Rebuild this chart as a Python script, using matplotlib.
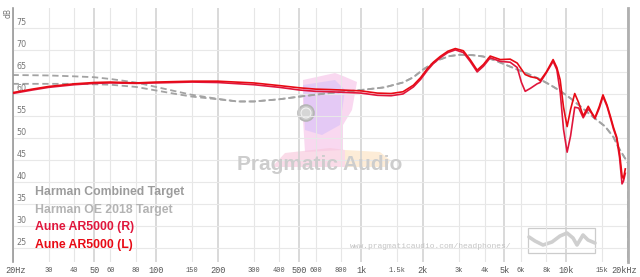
import matplotlib
matplotlib.use('Agg')
import matplotlib.pyplot as plt
from matplotlib import transforms
from matplotlib.patches import Polygon, Ellipse, Rectangle

# Frequency response data
freq_red = [20, 25, 30, 40, 50, 60, 80, 100, 150, 200, 300, 400, 500, 600, 700, 800,
            1000, 1200, 1400, 1600, 1800, 1950, 2100, 2250, 2430, 2650, 2880, 3150,
            3400, 3680, 3950, 4260, 4770, 5330, 5770, 6050, 6310, 6700, 7210, 7460,
            8000, 8630, 9000, 9340, 9700, 10100, 10500, 11000, 11500, 12100, 12800,
            13300, 13800, 14500, 15100, 15800, 16400, 17000, 17600, 18200, 18700,
            19000, 19400]
aune_r = [60.1, 60.9, 61.5, 62.1, 62.4, 62.5, 62.4, 62.5, 62.7, 62.6, 62.1, 61.5, 60.9,
          60.6, 60.5, 60.4, 60.2, 59.7, 59.6, 60.0, 61.6, 63.3, 65.3, 66.9, 68.2, 69.4,
          70.0, 69.4, 67.4, 65.0, 66.3, 68.2, 67.4, 67.2, 66.0, 62.6, 60.6, 61.3, 62.3,
          62.6, 64.8, 67.4, 65.5, 60.5, 52.0, 46.8, 50.5, 57.0, 56.8, 54.6, 56.6, 55.6,
          54.4, 56.8, 59.4, 57.2, 54.6, 52.0, 50.0, 45.5, 39.6, 40.2, 42.0]
aune_l = [60.3, 61.1, 61.7, 62.3, 62.6, 62.7, 62.5, 62.7, 62.9, 62.9, 62.5, 61.9, 61.4,
          61.1, 61.0, 60.9, 60.7, 60.2, 60.1, 60.5, 62.0, 63.7, 65.7, 67.2, 68.5, 69.7,
          70.3, 69.8, 67.8, 65.4, 66.7, 68.6, 67.8, 67.9, 67.0, 65.6, 64.4, 63.9, 63.6,
          63.0, 65.0, 67.8, 66.0, 63.2, 57.0, 52.6, 56.5, 60.1, 58.0, 55.0, 57.2, 55.8,
          54.6, 57.2, 59.8, 57.5, 55.0, 52.4, 50.3, 46.5, 41.5, 40.8, 43.0]

freq_tgt = [20, 30, 40, 50, 60, 80, 100, 125, 150, 200, 250, 300, 400, 500, 700, 1000,
            1300, 1600, 1800, 2000, 2350, 2700, 3040, 3500, 3940, 4500, 5330, 6400,
            7400, 8400, 9400, 10500, 12000, 13500, 15500, 17000, 17900, 19000, 20000, 20000]
harman_oe = [64.3, 64.2, 64.0, 63.8, 63.4, 62.6, 61.6, 60.6, 59.8, 58.9, 58.3, 58.3, 58.8,
             59.4, 60.2, 60.9, 61.5, 62.6, 63.8, 65.5, 67.6, 68.6, 68.9, 68.8, 68.5, 67.6,
             66.2, 64.7, 63.4, 62.0, 60.6, 59.0, 56.8, 54.8, 52.6, 50.2, 48.0, 46.0, 44.3, 21.0]
harman_comb = [62.3, 62.3, 62.3, 62.2, 62.1, 61.6, 60.8, 60.0, 59.4, 58.8, 58.3, 58.3, 58.8,
               59.4, 60.2, 60.9, 61.5, 62.6, 63.8, 65.5, 67.6, 68.6, 68.9, 68.8, 68.5, 67.6,
               66.2, 64.7, 63.4, 62.0, 60.6, 59.0, 56.8, 54.8, 52.6, 50.2, 48.0, 46.0, 44.3, 21.0]

xticks = [20, 30, 40, 50, 60, 80, 100, 150, 200, 300, 400, 500, 600, 800,
          1000, 1500, 2000, 3000, 4000, 5000, 6000, 8000, 10000, 15000, 20000]
xlabels = ['20Hz', '30', '40', '50', '60', '80', '100', '150', '200', '300', '400', '500',
           '600', '800', '1k', '1.5k', '2k', '3k', '4k', '5k', '6k', '8k', '10k', '15k', '20kHz']
major = [20, 50, 100, 200, 500, 1000, 2000, 5000, 10000, 20000]
yticks = [25, 30, 35, 40, 45, 50, 55, 60, 65, 70, 75]

legend_names = ['Harman Combined Target', 'Harman OE 2018 Target', 'Aune AR5000 (R)', 'Aune AR5000 (L)']
legend_colors = ['#9c9c9c', '#b3b3b3', '#e0163c', '#e80a14']

W, H = 640, 277
fig = plt.figure(figsize=(W / 100, H / 100), dpi=100)
ax = fig.add_axes([12.5 / W, 1 - 261.5 / H, (628 - 12.5) / W, (261.5 - 8) / H])
ax.set_xscale('log')
ax.set_xlim(20, 20000)
ax.set_ylim(22, 79.5)
ax.set_xticks([])
ax.set_yticks([])
ax.minorticks_off()
for s in ['top', 'bottom']:
    ax.spines[s].set_visible(False)
ax.spines['left'].set_color('#9a9a9a')
ax.spines['left'].set_linewidth(1.2)
ax.spines['right'].set_color('#b0b0b0')
ax.spines['right'].set_linewidth(2.0)

# grid
for f in xticks:
    if f in major:
        ax.axvline(f, color='#cfcfcf', lw=1.1, zorder=0.5)
    else:
        ax.axvline(f, color='#e6e6e6', lw=0.8, zorder=0.5)
for v in yticks:
    ax.axhline(v, color='#e8e8e8', lw=0.8, zorder=0.5)

# labels
ytr = transforms.blended_transform_factory(ax.transAxes, ax.transData)
for v in yticks:
    ax.text(0.006, v + 0.25, str(v), transform=ytr, fontsize=5.8, color='#777777',
            va='bottom', ha='left')
fig.text(8 / W, 1 - 13 / H, 'dB', rotation=90, fontsize=5.5, color='#777777',
         ha='center', va='center')

xtr = transforms.blended_transform_factory(ax.transData, ax.transAxes)
for f, lab in zip(xticks, xlabels):
    xpos = f
    if f == 20:
        xpos = 20.8
    if f == 20000:
        xpos = 19230
    size = 6.2 if f in major else 5.0
    ax.text(xpos, -0.034, lab, transform=xtr, fontsize=size, color='#555555',
            family='Liberation Mono', ha='center', va='center', clip_on=False)

# watermark logo (head with headphones)
def px(pts):
    return [(x / W, 1 - y / H) for x, y in pts]

ax.add_patch(Polygon(px([(303, 80), (335, 73), (343, 76), (357, 82), (352, 110), (343, 125),
                         (343, 150), (305, 152), (303, 120)]),
                     closed=True, transform=fig.transFigure, color='#f6c3e8', alpha=0.65,
                     lw=0, zorder=0.3))
ax.add_patch(Polygon(px([(303, 85), (335, 80), (345, 90), (340, 125), (322, 135), (305, 130)]),
                     closed=True, transform=fig.transFigure, color='#d9c2f8', alpha=0.65,
                     lw=0, zorder=0.35))
ax.add_patch(Polygon(px([(272, 167), (285, 153), (330, 148), (345, 150), (345, 167)]),
                     closed=True, transform=fig.transFigure, color='#f8c8dc', alpha=0.65,
                     lw=0, zorder=0.3))
ax.add_patch(Polygon(px([(345, 150), (380, 152), (390, 160), (387, 167), (345, 167)]),
                     closed=True, transform=fig.transFigure, color='#fde3c2', alpha=0.65,
                     lw=0, zorder=0.3))
ax.add_patch(Ellipse((306 / W, 1 - 113 / H), 16 / W, 16 / H, transform=fig.transFigure,
                     facecolor='#c9c9c9', edgecolor='#b5b5b5', lw=1.2, zorder=0.4))
ax.add_patch(Ellipse((306 / W, 1 - 113 / H), 10 / W, 10 / H, transform=fig.transFigure,
                     facecolor='#d6d6d6', edgecolor='#f2f2f2', lw=0.8, zorder=0.45))
fig.text(320 / W, 1 - 165 / H, 'Pragmatic Audio', fontsize=15, fontweight='bold',
         family='Liberation Sans', color='#cdcdcd', ha='center', va='center', zorder=1)
fig.text(431 / W, 1 - 247 / H, 'www.pragmaticaudio.com/headphones/', fontsize=5.8,
         family='Liberation Mono', color='#c4c4c4', ha='center', va='center')

# small logo box
ax.add_patch(Rectangle((528 / W, 1 - 253 / H), 67 / W, 25 / H, transform=fig.transFigure,
                       fill=False, edgecolor='#cccccc', lw=0.9, zorder=0.4))
sq = px([(529, 237), (535, 241), (543, 245), (552, 242), (560, 236), (567, 233),
         (573, 238), (577, 245), (580, 240), (583, 235), (588, 240), (595, 243)])
ax.plot([p[0] for p in sq], [p[1] for p in sq], transform=fig.transFigure,
        color='#cfcfcf', lw=2.6, solid_capstyle='round', zorder=0.45)

# curves
ax.plot(freq_tgt, harman_comb, color='#a3a3a3', lw=1.3, dashes=(3.5, 2), zorder=2)
ax.plot(freq_tgt, harman_oe, color='#a3a3a3', lw=1.3, dashes=(3.5, 2), zorder=2)
ax.plot(freq_red, aune_r, color=legend_colors[2], lw=1.2, zorder=3)
ax.plot(freq_red, aune_l, color=legend_colors[3], lw=1.2, zorder=3)

# legend as text
for i, (name, c) in enumerate(zip(legend_names, legend_colors)):
    fig.text(35 / W, 1 - (192 + i * 17.6) / H, name, fontsize=8.8, fontweight='bold',
             family='Liberation Sans', color=c, ha='left', va='center')

fig.savefig('out.png', dpi=100)
